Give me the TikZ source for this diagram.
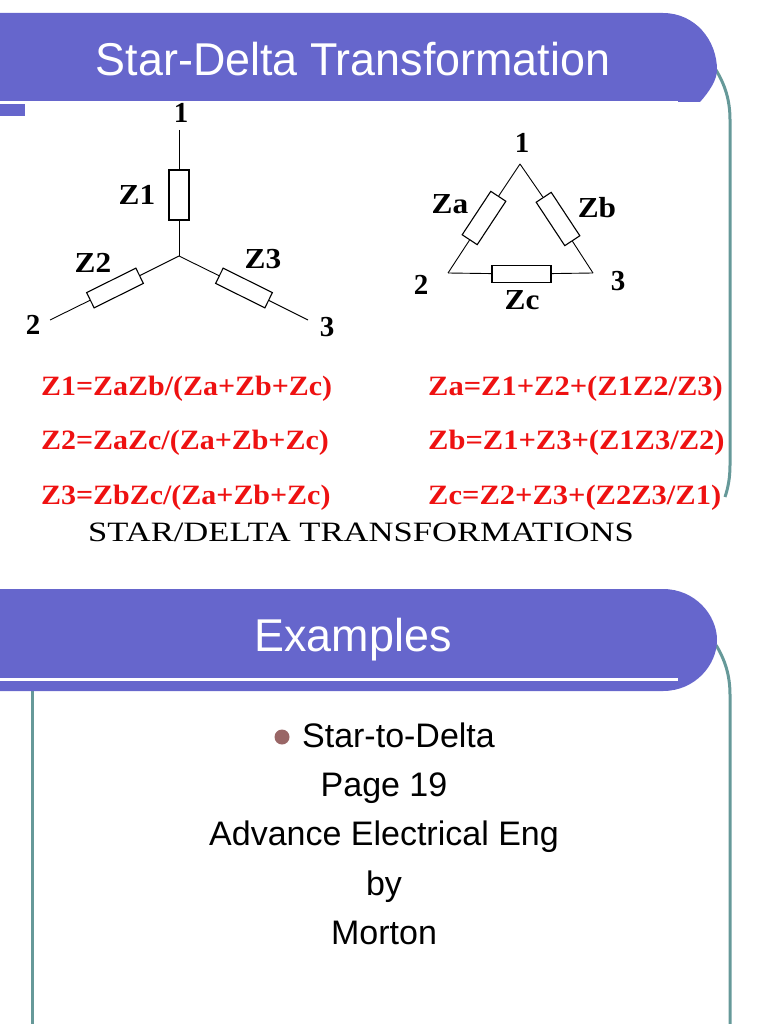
\documentclass[tikz,border=0pt]{standalone}
\usepackage{fontspec}
\usepackage{xcolor}
\setmainfont{Liberation Sans}
\newfontfamily\timesface{Liberation Serif}
\definecolor{bannerblue}{HTML}{6666CC}
\definecolor{frameteal}{HTML}{669999}
\definecolor{formulared}{HTML}{EE1111}
\definecolor{bulletbrown}{HTML}{996666}
\newcommand{\widetext}[2]{\scalebox{#1}[1]{#2}}
\tikzset{
	banner/.style={fill=bannerblue,draw=none},
	frameline/.style={draw=frameteal,line width=3pt},
	titletext/.style={text=white,inner sep=0pt,anchor=base,font=\fontsize{46}{46}\selectfont},
	bodytext/.style={text=black,inner sep=0pt,anchor=base,font=\fontsize{34}{34}\selectfont},
	wire/.style={draw=black,line width=0.9pt},
	resistor/.style={draw=black,fill=white,line width=1.1pt,rectangle,inner sep=0pt,minimum width=55pt,minimum height=17pt},
	circuitlabel/.style={text=black,inner sep=0pt,font=\timesface\bfseries\fontsize{29}{29}\selectfont},
	formula/.style={text=formulared,inner sep=0pt,anchor=west,font=\timesface\bfseries\fontsize{28}{28}\selectfont},
}
\begin{document}
\begin{tikzpicture}[x=1pt,y=-1pt]
	\useasboundingbox (0,0) rectangle (768,1024);
	
	% frame lines
	\draw[frameline] (716,70) .. controls (725,85) and (730,100) .. (730,120) -- (730,465) .. controls (730,478) and (728,488) .. (725,497);
	\draw[frameline] (716,645) .. controls (725,660) and (730,675) .. (730,695) -- (730,1024);
	\draw[frameline] (32,690) -- (32,1024);
	
	% banners
	\fill[banner] (0,13) -- (663,13) .. controls (695,13) and (717,40) .. (717,70) .. controls (717,80) and (709,92) .. (700,102) -- (678,102) -- (678,101) -- (0,101) -- cycle;
	\fill[banner] (0,104) rectangle (25,116);
	\fill[banner] (0,589) -- (663,589) .. controls (695,589) and (717,615) .. (717,640) .. controls (717,665) and (695,691) .. (663,691) -- (0,691) -- cycle;
	\fill[white] (0,678) rectangle (678,681);
	\node[titletext] (title) at (353,76) {\widetext{0.975}{Star-Delta Transformation}};
	\node[titletext] (examples) at (353,651) {\widetext{0.975}{Examples}};
	
	% star
	\coordinate (S) at (179,256);
	\coordinate (S1) at (179,130);
	\coordinate (S2) at (50,320);
	\coordinate (S3) at (308,320);
	\node[resistor,rotate=90,minimum width=50pt,minimum height=20pt] (RZ1) at (179,195) {};
	\node[resistor,rotate=26.4] (RZ2) at (115,288) {};
	\node[resistor,rotate=-26.4] (RZ3) at (244,288) {};
	\draw[wire] (S1) -- (RZ1);
	\draw[wire] (RZ1) -- (S);
	\draw[wire] (S) -- (RZ2);
	\draw[wire] (RZ2) -- (S2);
	\draw[wire] (S) -- (RZ3);
	\draw[wire] (RZ3) -- (S3);
	\node[circuitlabel] (n1) at (181,113) {1};
	\node[circuitlabel] (n2) at (33,325) {2};
	\node[circuitlabel] (n3) at (327,327) {3};
	\node[circuitlabel] (z1) at (137,195) {\widetext{1.08}{Z1}};
	\node[circuitlabel] (z2) at (93,263) {\widetext{1.08}{Z2}};
	\node[circuitlabel] (z3) at (263,259) {\widetext{1.08}{Z3}};
	
	% delta
	\coordinate (D1) at (520,164);
	\coordinate (D2) at (448,273);
	\coordinate (D3) at (593,273);
	\node[resistor,rotate=56.6,minimum width=52pt,minimum height=18pt] (RZa) at (484,218) {};
	\node[resistor,rotate=-56.6,minimum width=52pt,minimum height=18pt] (RZb) at (558,219) {};
	\node[resistor,minimum width=59pt] (RZc) at (521.5,274) {};
	\draw[wire] (D1) -- (RZa);
	\draw[wire] (RZa) -- (D2);
	\draw[wire] (D1) -- (RZb);
	\draw[wire] (RZb) -- (D3);
	\draw[wire] (D2) -- (RZc);
	\draw[wire] (RZc) -- (D3);
	\node[circuitlabel] (m1) at (522,143) {1};
	\node[circuitlabel] (m2) at (421,285) {2};
	\node[circuitlabel] (m3) at (618,281) {3};
	\node[circuitlabel] (za) at (450,204) {\widetext{1.08}{Za}};
	\node[circuitlabel] (zb) at (597,208) {\widetext{1.08}{Zb}};
	\node[circuitlabel] (zc) at (522,300) {\widetext{1.08}{Zc}};
	
	% formulas
	\node[formula] (f1) at (41,389) {\widetext{1.07}{Z1=ZaZb/(Za+Zb+Zc)}};
	\node[formula] (f2) at (41,443) {\widetext{1.07}{Z2=ZaZc/(Za+Zb+Zc)}};
	\node[formula] (f3) at (41,498) {\widetext{1.07}{Z3=ZbZc/(Za+Zb+Zc)}};
	\node[formula] (fa) at (428,389) {\widetext{1.09}{Za=Z1+Z2+(Z1Z2/Z3)}};
	\node[formula] (fb) at (428,443) {\widetext{1.09}{Zb=Z1+Z3+(Z1Z3/Z2)}};
	\node[formula] (fc) at (428,498) {\widetext{1.09}{Zc=Z2+Z3+(Z2Z3/Z1)}};
	\node[inner sep=0pt,font=\timesface\fontsize{28}{28}\selectfont] (caption) at (361,532) {\widetext{1.235}{STAR/DELTA TRANSFORMATIONS}};
	
	% second slide text
	\fill[bulletbrown] (282,737) circle (7.5);
	\node[bodytext] (t1) at (398.5,747) {Star-to-Delta};
	\node[bodytext] (t2) at (384,796) {Page 19};
	\node[bodytext] (t3) at (384,845) {Advance Electrical Eng};
	\node[bodytext] (t4) at (384,895) {by};
	\node[bodytext] (t5) at (384,944) {Morton};
\end{tikzpicture}
\end{document}
